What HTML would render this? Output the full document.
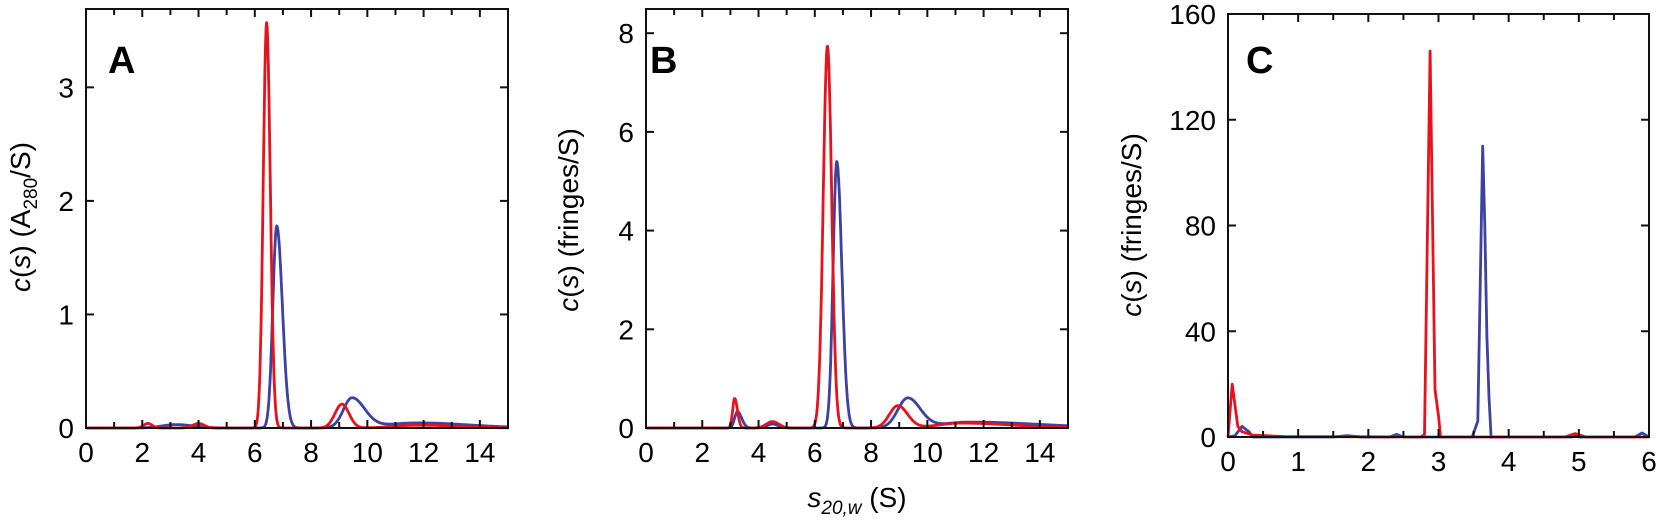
<!DOCTYPE html>
<html><head><meta charset="utf-8">
<style>
html,body{margin:0;padding:0;background:#fff;}
svg{display:block;font-family:"Liberation Sans",sans-serif;}
</style></head>
<body>
<svg id="s" width="1658" height="527" viewBox="0 0 1658 527" xmlns="http://www.w3.org/2000/svg">
<text x="108" y="73" font-size="38" font-weight="bold">A</text>
<text x="650" y="73" font-size="38" font-weight="bold">B</text>
<text x="1246" y="73" font-size="38" font-weight="bold">C</text>
<text transform="translate(30,217) rotate(-90)" font-size="28" text-anchor="middle"><tspan font-style="italic">c</tspan>(<tspan font-style="italic">s</tspan>) (A<tspan font-size="19" dy="7">280</tspan><tspan dy="-7">/S)</tspan></text>
<text transform="translate(578,220) rotate(-90)" font-size="28" text-anchor="middle"><tspan font-style="italic">c</tspan>(<tspan font-style="italic">s</tspan>) (fringes/S)</text>
<text transform="translate(1141,225) rotate(-90)" font-size="28" text-anchor="middle"><tspan font-style="italic">c</tspan>(<tspan font-style="italic">s</tspan>) (fringes/S)</text>
<text x="857" y="507" font-size="28" text-anchor="middle"><tspan font-style="italic">s</tspan><tspan font-style="italic" font-size="19" dy="7">20,w</tspan><tspan dy="-7"> (S)</tspan></text>
</svg>
<script>
const NS="http://www.w3.org/2000/svg",S=document.getElementById('s');
function el(t,a,txt){const e=document.createElementNS(NS,t);for(const k in a)e.setAttribute(k,a[k]);if(txt!==undefined)e.textContent=txt;S.appendChild(e);return e;}
function panel(p){
 const X=v=>p.x0+(v-p.xmin)/(p.xmax-p.xmin)*(p.x1-p.x0);
 const Y=v=>p.y0-(v-p.ymin)/(p.ymax-p.ymin)*(p.y0-p.y1);
 p.series.forEach(s=>{
   let d='';s.pts.forEach((q,i)=>{d+=(i?'L':'M')+X(q[0]).toFixed(1)+','+Math.min(p.y0,Y(q[1])).toFixed(1);});
   el('path',{d:d,fill:'none',stroke:s.c,'stroke-width':2.8,'stroke-linejoin':'round'});
 });
 el('rect',{x:p.x0,y:p.y1,width:p.x1-p.x0,height:p.y0-p.y1,fill:'none',stroke:'#111','stroke-width':2});
 for(let v=p.xmin;v<=p.xmax+1e-9;v+=p.xminor){
   const maj=Math.abs(v/p.xmaj-Math.round(v/p.xmaj))<1e-6, L=maj?8:6, x=X(v);
   if(v>p.xmin+1e-6&&v<p.xmax-1e-6){el('line',{x1:x,x2:x,y1:p.y0,y2:p.y0-L,stroke:'#111','stroke-width':2});el('line',{x1:x,x2:x,y1:p.y1,y2:p.y1+L,stroke:'#111','stroke-width':2});}
   if(maj&&v<=p.xlabmax)el('text',{x:x,y:p.y0+34,'font-size':28,'text-anchor':'middle'},String(Math.round(v)));
 }
 for(let v=p.ymin;v<=p.ymax+1e-9;v+=p.ymaj){
   const y=Y(v);
   if(v>p.ymin){el('line',{x1:p.x0,x2:p.x0+8,y1:y,y2:y,stroke:'#111','stroke-width':2});el('line',{x1:p.x1,x2:p.x1-8,y1:y,y2:y,stroke:'#111','stroke-width':2});}
   el('text',{x:p.x0-12,y:y+10,'font-size':28,'text-anchor':'end'},String(v));
 }
}
function gsum(comps,a,b,st){const r=[];for(let x=a;x<=b+1e-9;x+=st){let v=0;comps.forEach(c=>{const s=x<c[0]?c[2]:(c[3]||c[2]);v+=c[1]*Math.exp(-0.5*((x-c[0])/s)**2);});r.push([x,v]);}return r;}
const RED='#e8121c',BLUE='#3c42a2';
panel({x0:86,x1:508,y0:428,y1:9,xmin:0,xmax:15,ymin:0,ymax:3.69,xminor:1,xmaj:2,xlabmax:14,ymaj:1,
 series:[
  {c:BLUE,pts:gsum([[3.2,0.03,0.5,0.6],[6.78,1.78,0.14,0.2],[9.45,0.26,0.3,0.45],[11.8,0.045,1.2,1.8]],0,15,0.02)},
  {c:RED,pts:gsum([[2.2,0.04,0.15],[4.0,0.04,0.2],[6.42,3.57,0.12,0.13],[9.1,0.21,0.25,0.25],[11.8,0.025,0.8,1.4]],0,15,0.02)}
 ]});
panel({x0:646,x1:1068,y0:428,y1:9,xmin:0,xmax:15,ymin:0,ymax:8.49,xminor:1,xmaj:2,xlabmax:14,ymaj:2,
 series:[
  {c:BLUE,pts:gsum([[3.25,0.33,0.1,0.15],[4.5,0.08,0.2],[6.78,5.4,0.13,0.18],[9.3,0.6,0.35,0.45],[11.5,0.12,1.0,2.5]],0,15,0.02)},
  {c:RED,pts:gsum([[3.15,0.6,0.07,0.1],[4.5,0.13,0.22],[6.45,7.75,0.15,0.15],[8.95,0.45,0.3,0.35],[11.2,0.1,0.8,1.8]],0,15,0.02)}
 ]});
panel({x0:1228,x1:1649,y0:437,y1:14,xmin:0,xmax:6,ymin:0,ymax:160,xminor:0.5,xmaj:1,xlabmax:6,ymaj:40,
 series:[
  {c:BLUE,pts:[[0,0],[0.1,0.5],[0.2,4],[0.3,2],[0.35,0],[1.5,0],[1.7,0.5],[1.9,0],[2.3,0],[2.4,1],[2.5,0],[3.48,0],[3.52,3],[3.56,6],[3.63,110],[3.66,80],[3.69,38],[3.72,15],[3.75,0],[4.9,0],[4.95,0.8],[5.0,0],[5.8,0],[5.9,1.5],[6,0]]},
  {c:RED,pts:[[0,0],[0.06,20],[0.14,4],[0.2,2],[0.35,0.7],[0.8,0.2],[2.75,0],[2.8,1],[2.88,146],[2.95,18],[3.0,8],[3.03,0],[4.8,0],[4.95,1.3],[5.1,0],[6,0]]}
 ]});
</script>
</body></html>
